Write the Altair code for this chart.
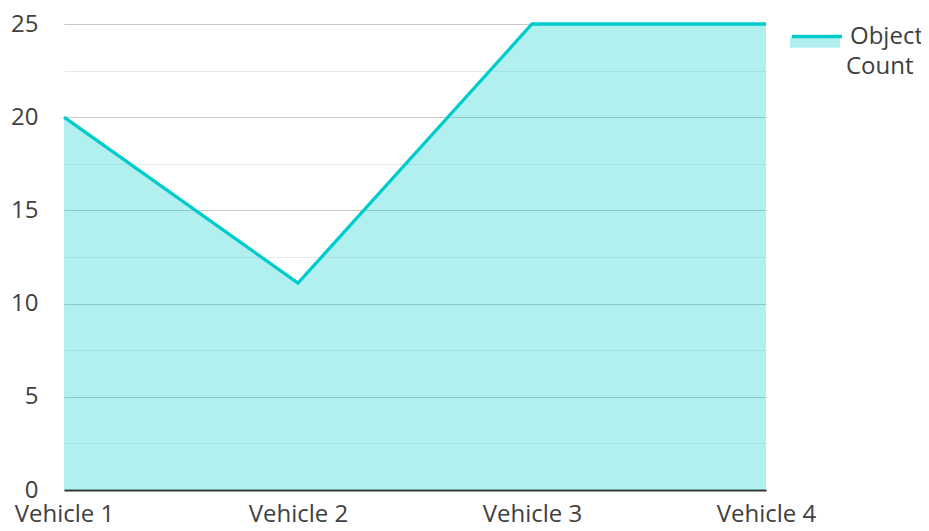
import altair as alt
import pandas as pd

vehicles = ["Vehicle 1", "Vehicle 2", "Vehicle 3", "Vehicle 4"]
object_counts = [20, 11.1, 25, 25]
series_names = ["Object Count", "Object Count", "Object Count", "Object Count"]
y_tick_values = [0, 2.5, 5, 7.5, 10, 12.5, 15, 17.5, 20, 22.5, 25]

df = pd.DataFrame({"vehicle": vehicles, "count": object_counts, "series": series_names})

FONT = "Open Sans"
TEXT = "#404040"
TEAL = "#00cccc"

x_enc = alt.X(
    "vehicle:N",
    sort=vehicles,
    scale=alt.Scale(type="point", padding=0),
    axis=alt.Axis(
        title=None, labelAngle=0, labelFont=FONT, labelFontSize=24, labelColor=TEXT,
        domainColor="#333333", domainWidth=2, ticks=False, grid=False, labelPadding=12,
    ),
)
y_enc = alt.Y(
    "count:Q",
    scale=alt.Scale(domain=[0, 25], nice=False),
    axis=alt.Axis(
        title=None, values=y_tick_values, domain=False, ticks=False, tickSize=0,
        labelFont=FONT, labelFontSize=24, labelColor=TEXT, labelPadding=26,
        labelExpr="datum.value % 5 === 0 ? datum.label : ''",
        gridColor={"condition": {"test": "datum.value % 5 === 0", "value": "#c8c8c8"}, "value": "#e8e8e8"},
        gridWidth=1,
    ),
)

base = alt.Chart(df).encode(x=x_enc, y=y_enc)

area = base.mark_area(opacity=0.3).encode(
    fill=alt.Fill(
        "series:N",
        scale=alt.Scale(range=[TEAL]),
        legend=alt.Legend(
            title=None, orient="none", legendX=726, legendY=17.5, padding=0,
            symbolType="M-1,-1.19H1V-0.75H-1Z", symbolSize=2500, symbolStrokeWidth=0,
            symbolOpacity=0.3, labelFont=FONT, labelFontSize=24, labelColor=TEXT,
            labelOffset=6, labelExpr="'Count'",
        ),
    )
)

line = base.mark_line(strokeWidth=3.3).encode(
    stroke=alt.Stroke(
        "series:N",
        scale=alt.Scale(range=[TEAL]),
        legend=alt.Legend(
            title=None, orient="none", legendX=726, legendY=-14.5, padding=0,
            symbolType="M-1,0H1", symbolSize=2500, symbolStrokeWidth=3.3,
            symbolFillColor="transparent",
            labelFont=FONT, labelFontSize=24, labelColor=TEXT,
            labelOffset=6, labelExpr="'Object'",
        ),
    )
)

chart = (
    alt.layer(area, line)
    .resolve_scale(fill="independent", stroke="independent")
    .properties(
        width=702, height=466,
        autosize=alt.AutoSizeParams(type="none"),
        padding={"left": 56, "top": 16, "right": 155, "bottom": 33},
    )
    .configure_view(stroke=None)
)

chart.save("out.html", embed_options={"renderer": "svg", "actions": False})
